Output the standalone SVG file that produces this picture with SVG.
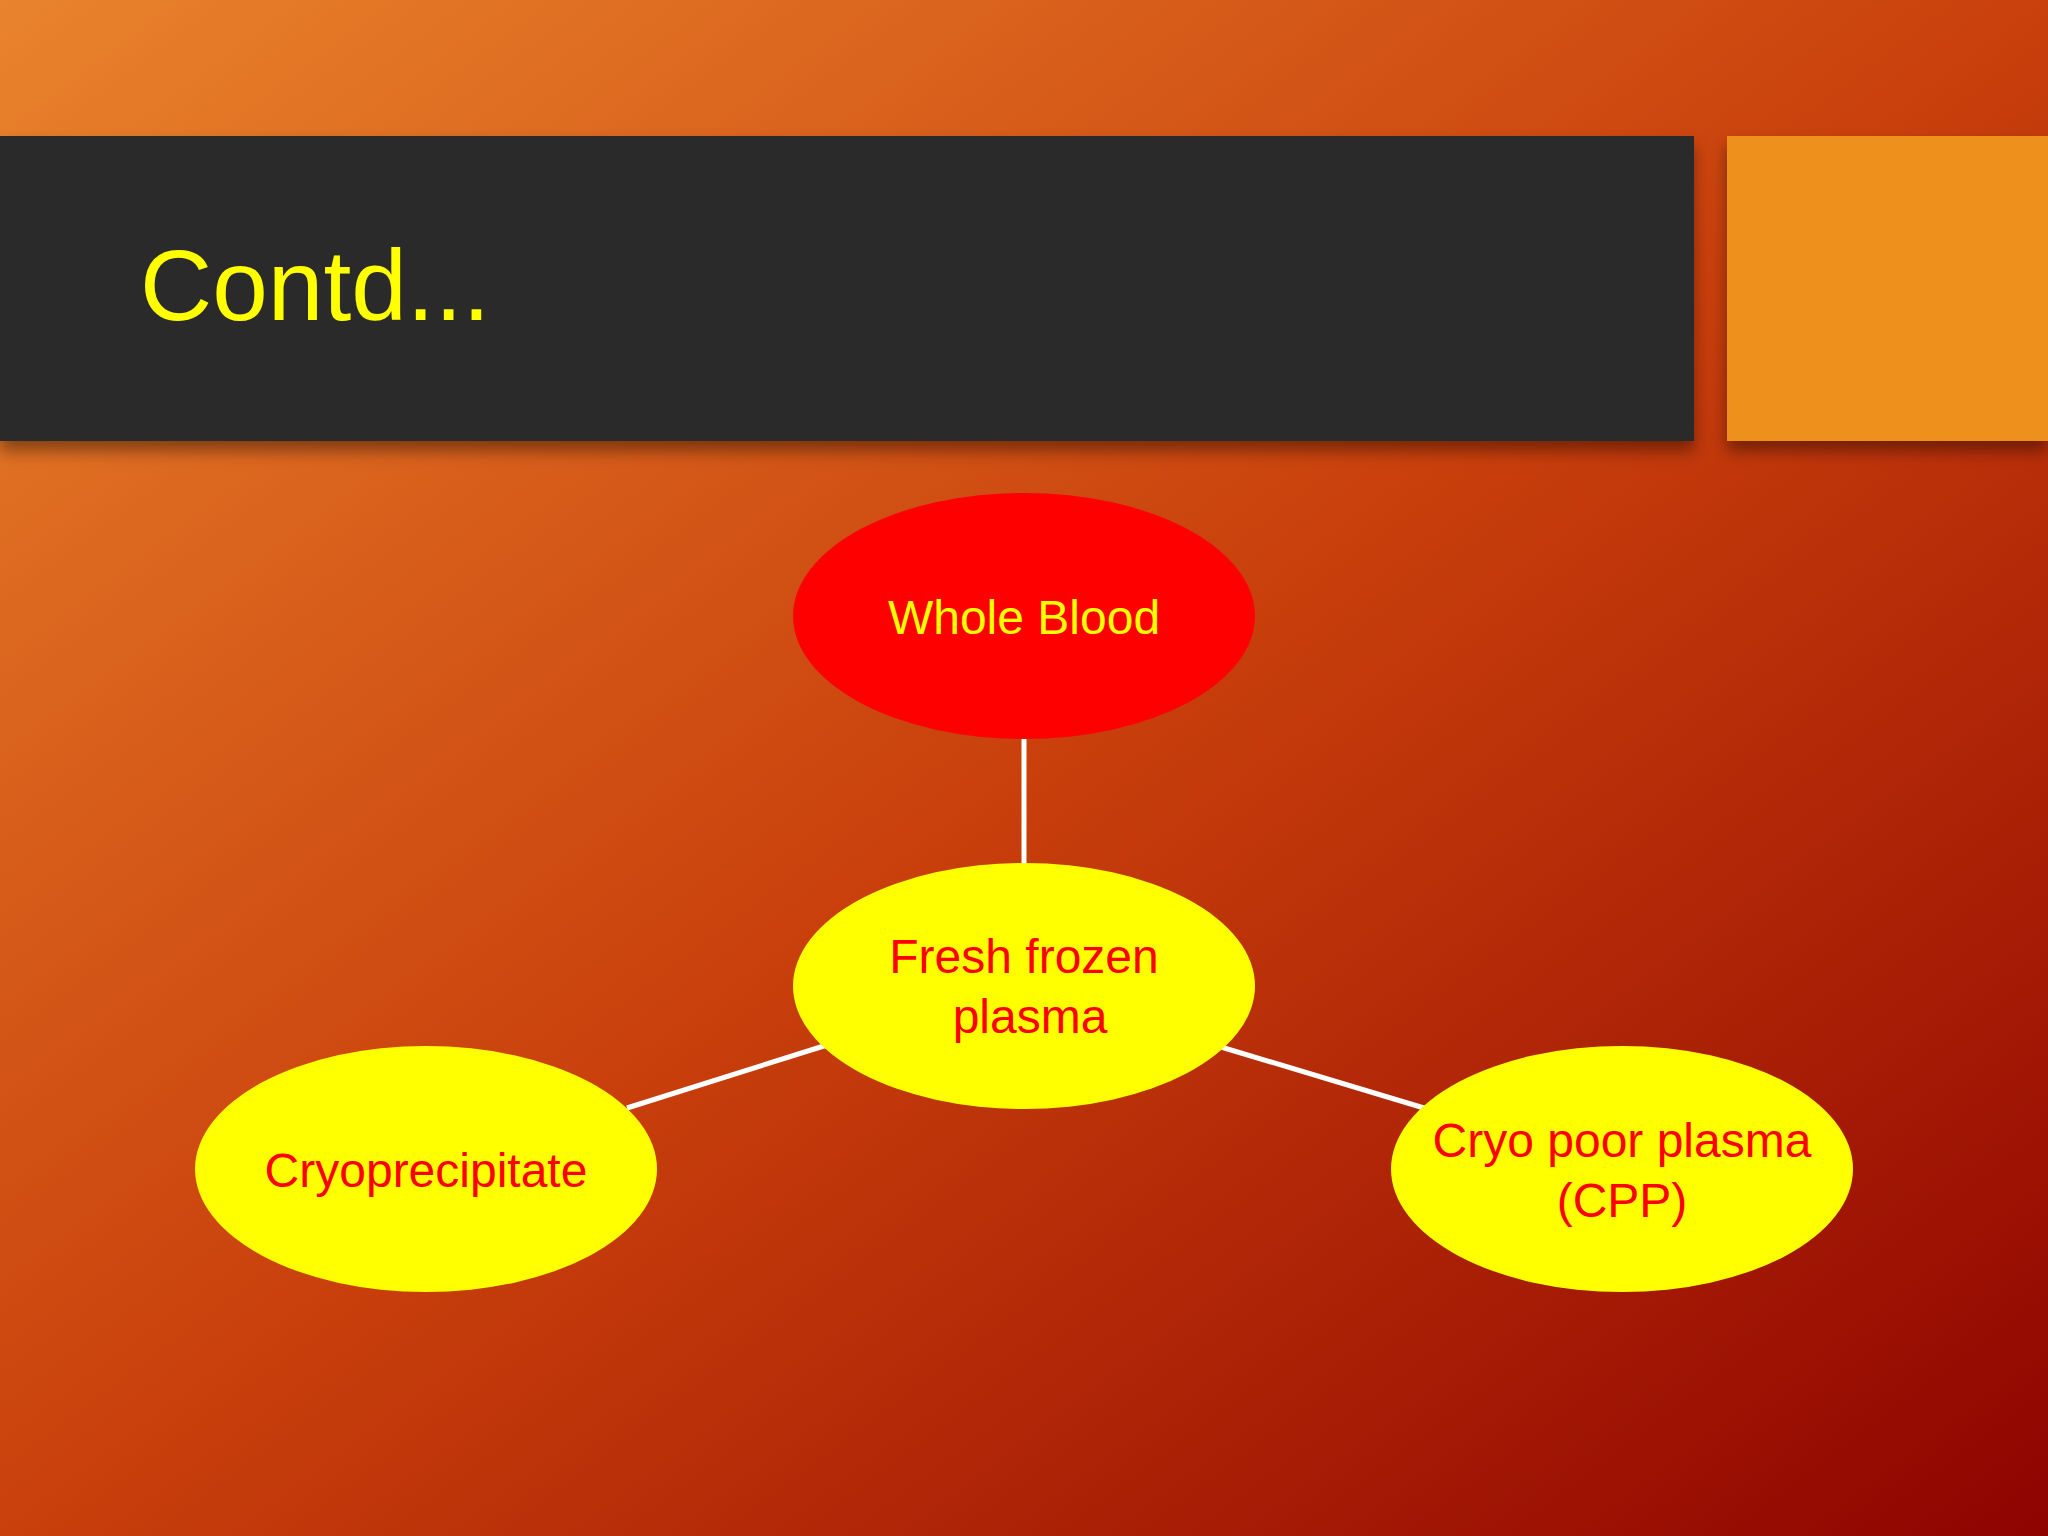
<svg xmlns="http://www.w3.org/2000/svg" width="2048" height="1536" viewBox="0 0 2048 1536">
<defs>
<linearGradient id="bg" x1="0" y1="0" x2="1" y2="1">
<stop offset="0" stop-color="#E9832C"/>
<stop offset="0.5" stop-color="#C9400C"/>
<stop offset="1" stop-color="#8E0300"/>
</linearGradient>
<filter id="sh" x="-5%" y="-10%" width="110%" height="130%"><feDropShadow dx="0" dy="10" stdDeviation="8" flood-color="#000" flood-opacity="0.4"/></filter>
<style>
.lbl{font-family:"Liberation Sans","DejaVu Sans",sans-serif;font-size:48px;text-anchor:middle}
.conn{stroke:#fff;stroke-width:5;fill:none}
</style>
</defs>
<rect width="2048" height="1536" fill="url(#bg)"/>
<rect x="0" y="136" width="1694" height="305" fill="#29292b" filter="url(#sh)"/>
<rect x="1727" y="136" width="321" height="305" fill="#EE911F" filter="url(#sh)"/>
<text x="140" y="320" font-family="'Liberation Sans','DejaVu Sans',sans-serif" font-size="100" fill="#FFFF00">Contd...</text>
<g id="connectors">
<line class="conn" x1="1024" y1="739" x2="1024" y2="864"/>
<line class="conn" x1="627" y1="1108" x2="827" y2="1045"/>
<line class="conn" x1="1221" y1="1047" x2="1424" y2="1108"/>
</g>
<g id="whole-blood">
<ellipse cx="1024" cy="616" rx="231" ry="123" fill="#FF0000"/>
<text class="lbl" x="1024" y="634" fill="#FFFF00">Whole Blood</text>
</g>
<g id="ffp">
<ellipse cx="1024" cy="986" rx="231" ry="123" fill="#FFFF00"/>
<text class="lbl" x="1024" y="973" fill="#FF0000">Fresh frozen</text>
<text class="lbl" x="1030" y="1033" fill="#FF0000">plasma</text>
</g>
<g id="cryo">
<ellipse cx="426" cy="1169" rx="231" ry="123" fill="#FFFF00"/>
<text class="lbl" x="426" y="1187" fill="#FF0000">Cryoprecipitate</text>
</g>
<g id="cpp">
<ellipse cx="1622" cy="1169" rx="231" ry="123" fill="#FFFF00"/>
<text class="lbl" x="1622" y="1157" fill="#FF0000">Cryo poor plasma</text>
<text class="lbl" x="1622" y="1217" fill="#FF0000">(CPP)</text>
</g>
</svg>
